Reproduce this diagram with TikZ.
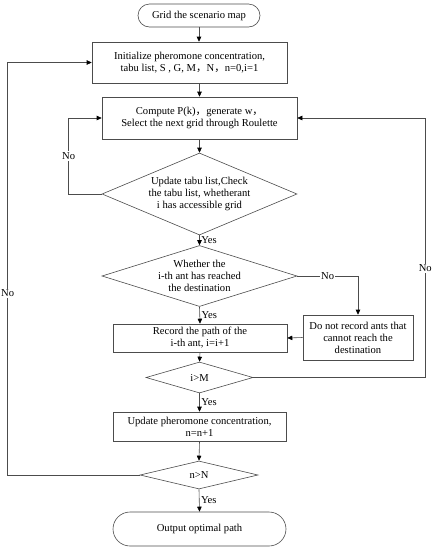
\documentclass[tikz,border=0pt]{standalone}
\usepackage{fontspec}
\setmainfont{Liberation Serif}
\newfontfamily\cjk{Noto Sans CJK SC}
\usetikzlibrary{shapes.geometric,shapes.misc,arrows.meta}
\def\fc{{\cjk ，}}
\begin{document}
\begin{tikzpicture}[x=1pt,y=-1pt,
  font=\fontsize{10.6}{12}\selectfont,
  line/.style={draw=black!70,line width=0.6pt},
  arr/.style={line,-{Triangle[length=5pt,width=4.5pt,black]}},
  box/.style={line,rectangle,align=center,inner sep=0pt},
  term/.style={line,rounded rectangle,align=center,inner sep=0pt},
  dia/.style={line,diamond,align=center,inner sep=0pt},
  lab/.style={fill=white,inner sep=1pt},
  yes/.style={right,inner sep=1.5pt}]
  \useasboundingbox (0,0) rectangle (435,550);
  \node[term,minimum width=122,minimum height=23] (start) at (199,15.5) {Grid the scenario map};
  \node[box,minimum width=195,minimum height=41] (init) at (189.5,62.5)
    {Initialize pheromone concentration,\\tabu list, S , G, M\fc N\fc n=0,i=1};
  \node[box,minimum width=195,minimum height=42] (compute) at (199.5,118)
    {Compute P(k)\fc generate w\fc\\Select the next grid through Roulette};
  \node[dia,aspect=2.4,minimum width=195,minimum height=82] (check) at (199.5,194)
    {Update tabu list,Check\\the tabu list, whetherant\\i has accessible grid};
  \node[dia,aspect=3.2,minimum width=195,minimum height=61] (reach) at (199.5,276)
    {Whether the\\i-th ant has reached\\the destination};
  \node[box,minimum width=110,minimum height=45] (skip) at (358,337.5)
    {Do not record ants that\\cannot reach the\\destination};
  \node[box,minimum width=174,minimum height=28] (record) at (200,338)
    {Record the path of the\\i-th ant, i=i+1};
  \node[dia,aspect=3.4,minimum width=107,minimum height=31] (im) at (199.5,377.5) {i>M};
  \node[box,minimum width=173,minimum height=29] (update) at (199.5,426.5)
    {Update pheromone concentration,\\n=n+1};
  \node[dia,aspect=4.2,minimum width=118,minimum height=28] (nn) at (199,475) {n>N};
  \node[term,minimum width=173,minimum height=34] (output) at (199.5,529) {Output optimal path};

  \draw[arr] (start.south) -- (start.south |- init.north);
  \draw[arr] (compute.north |- init.south) -- (compute.north);
  \draw[arr] (compute.south) -- (check.north);
  \draw[arr] (check.south) -- node[yes]{Yes} (reach.north);
  \draw[arr] (check.west) -| ([xshift=-33pt]compute.west) node[lab,pos=0.75]{No} -- (compute.west);
  \draw[arr] (reach.east) -| (skip.north) node[lab,pos=0.25]{No};
  \draw[arr] (reach.south) -- node[yes]{Yes} (record.north);
  \draw[arr] (skip.west) -- (record.east);
  \draw[arr] (record.south) -- (im.north);
  \draw[arr] (im.east) -| ([xshift=128pt]compute.east) node[lab,pos=0.71]{No} -- (compute.east);
  \draw[arr] (im.south) -- node[yes]{Yes} (update.north);
  \draw[arr] (update.south) -- (nn.north);
  \draw[arr] (nn.west) -| ([xshift=-84pt]init.west) node[lab,pos=0.72]{No} -- (init.west);
  \draw[arr] (nn.south) -- node[yes]{Yes} (output.north);
\end{tikzpicture}
\end{document}
